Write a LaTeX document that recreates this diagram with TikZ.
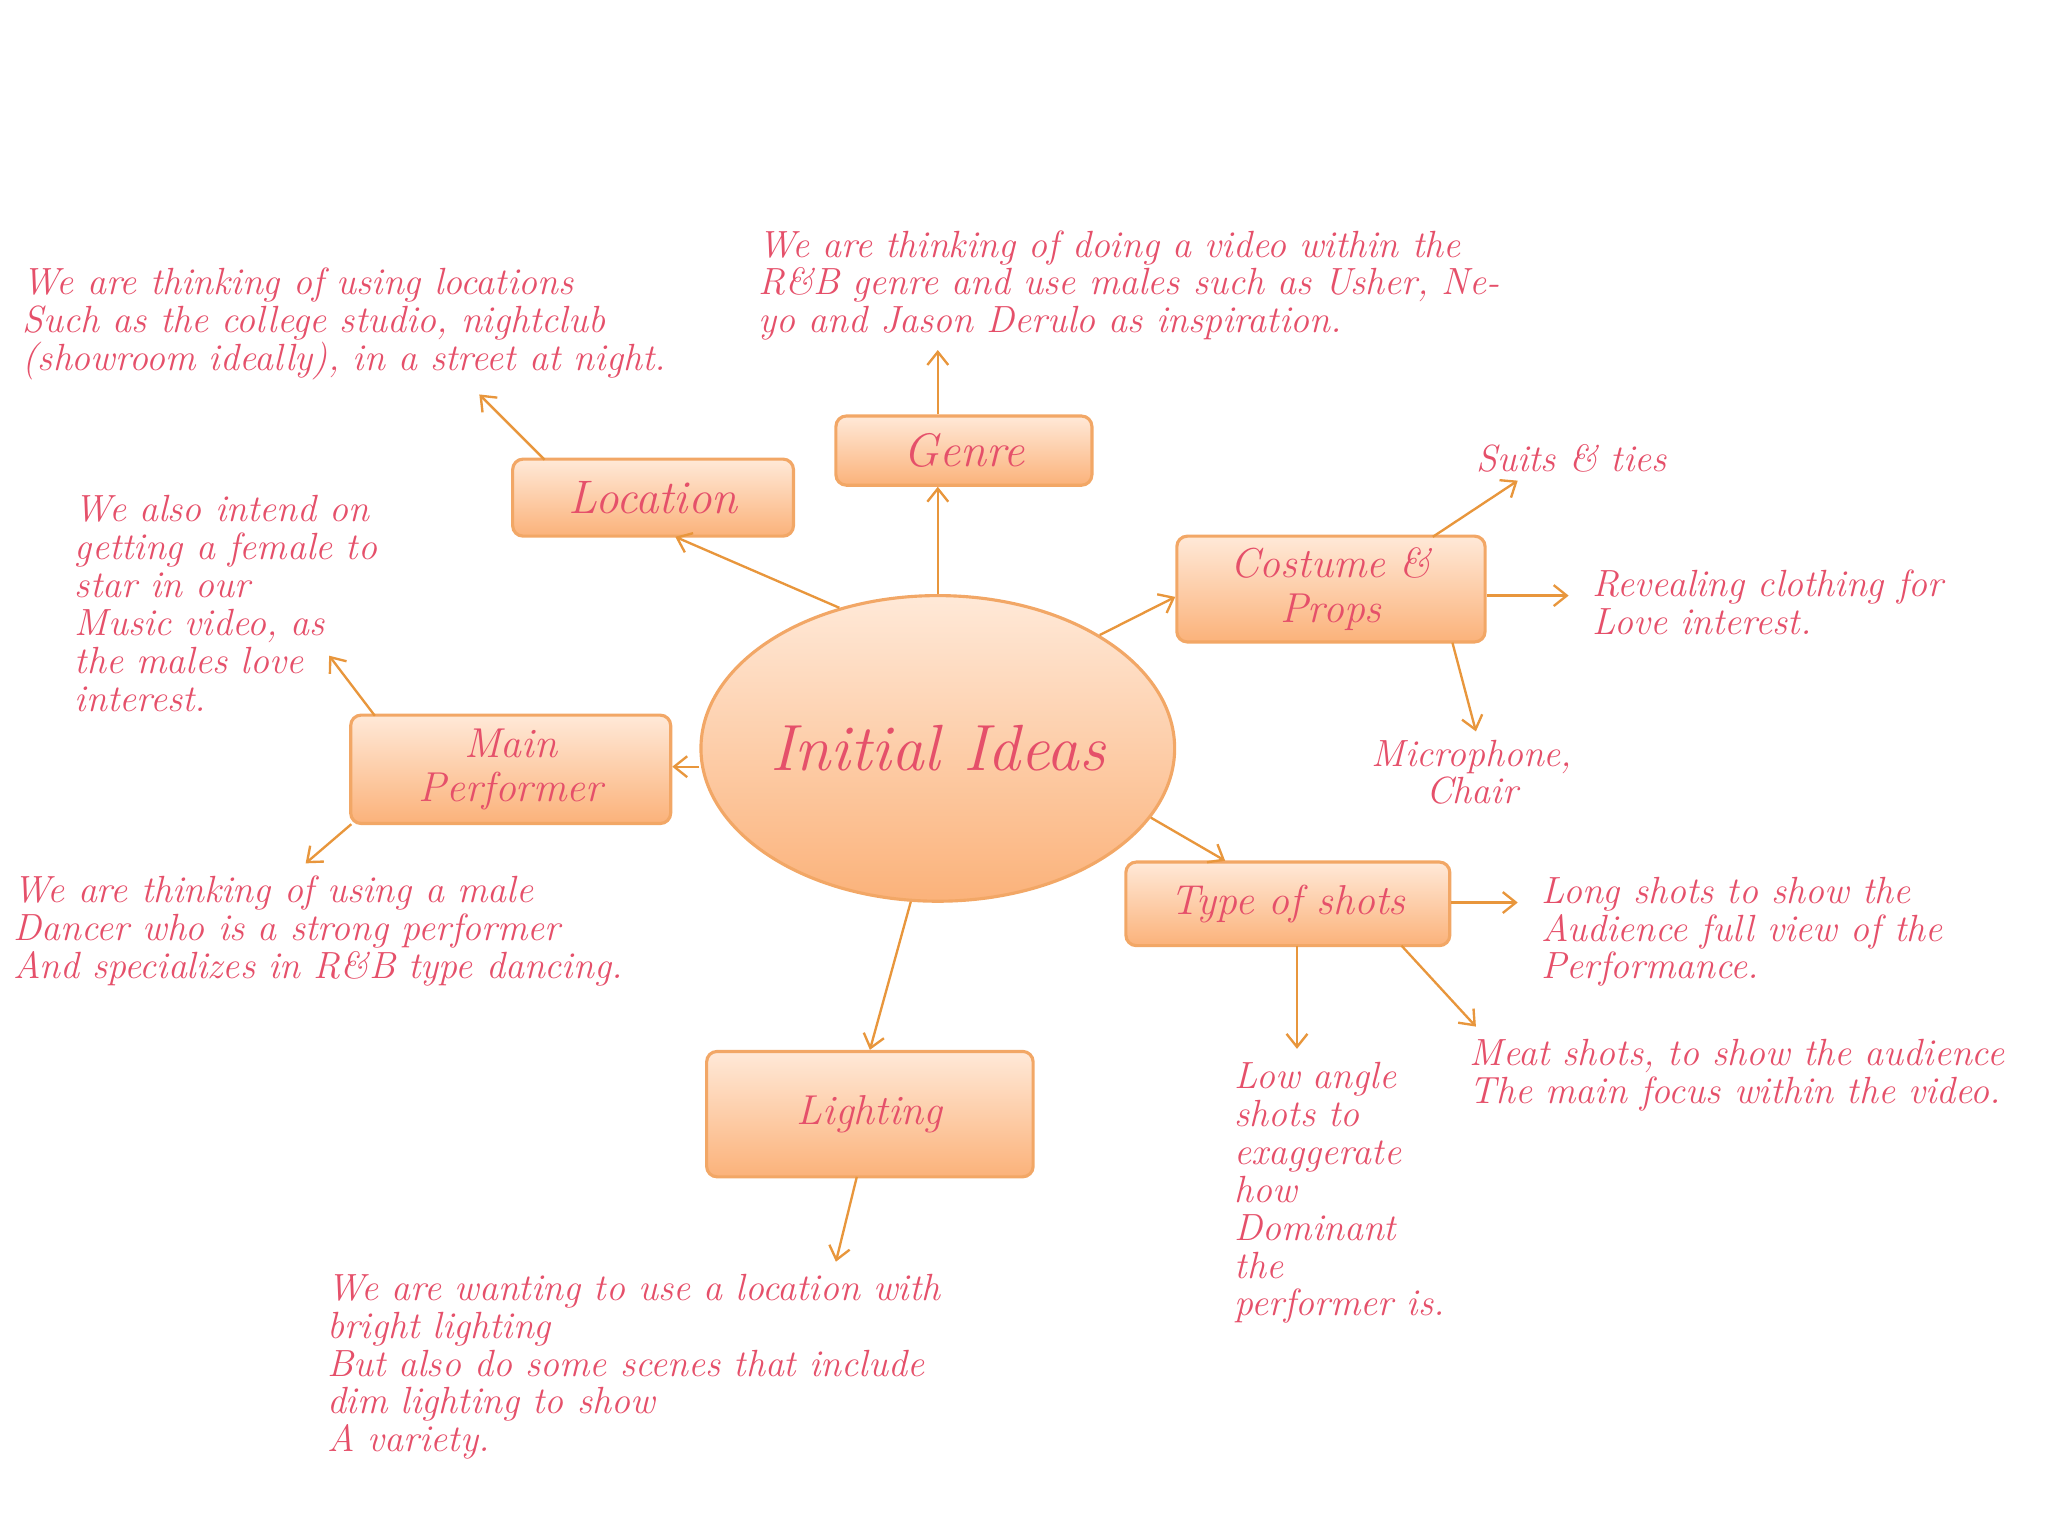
\documentclass[tikz,border=0pt]{standalone}
\usetikzlibrary{shapes.geometric,arrows.meta}
\definecolor{txt}{HTML}{E5506A}
\definecolor{ln}{HTML}{E8963C}
\definecolor{bd}{HTML}{F2A766}
\definecolor{top}{HTML}{FFE9D8}
\definecolor{bot}{HTML}{FBB27A}
\begin{document}
\begin{tikzpicture}[x=0.5pt,y=-0.5pt,
  box/.style={draw=bd,line width=1.2pt,rounded corners=4pt,top color=top,bottom color=bot,text=txt,font=\itshape\fontsize{16}{17}\selectfont,align=center,inner sep=0pt},
  note/.style={text=txt,font=\itshape\fontsize{14.5}{14.5}\selectfont,align=left,anchor=north west,inner sep=0pt},
  arr/.style={draw=ln,line width=0.9pt,-{Straight Barb[length=5pt,width=8pt]}}]
\useasboundingbox (0,0) rectangle (1568,1176);
\node[ellipse,draw=bd,line width=1.2pt,top color=top,bottom color=bot,inner sep=0pt,
  minimum width=157pt,minimum height=117pt,text=txt,font=\itshape\fontsize{25}{27}\selectfont] (ii) at (718,573) {Initial Ideas};
\node[box,minimum width=98pt,minimum height=26.5pt] (genre) at (738,345) {\fontsize{18}{19}\selectfont Genre};
\node[box,minimum width=107.5pt,minimum height=29.5pt] (loc) at (500,381) {\fontsize{18}{19}\selectfont Location};
\node[box,minimum width=118pt,minimum height=40.5pt] (cos) at (1019,451) {Costume \&\\Props};
\node[box,minimum width=122.5pt,minimum height=41.5pt] (mp) at (391,589) {Main\\Performer};
\node[box,minimum width=124pt,minimum height=32pt] (ts) at (986,692) {Type of shots};
\node[box,minimum width=125pt,minimum height=48pt] (li) at (666,853) {Lighting};

\node[note] (tg) at (580,176) {We are thinking of doing a video within the\\R\&B genre and use males such as Usher, Ne-\\yo and Jason Derulo as inspiration.};
\node[note] (tl) at (17,205) {We are thinking of using locations\\Such as the college studio, nightclub\\(showroom ideally), in a street at night.};
\node[note] (tf) at (57,379) {We also intend on\\getting a female to\\star in our\\Music video, as\\the males love\\interest.};
\node[note] (tm) at (10,670) {We are thinking of using a male\\Dancer who is a strong performer\\And specializes in R\&B type dancing.};
\node[note] (tst) at (1130,340) {Suits \& ties};
\node[note] (trc) at (1219,436) {Revealing clothing for\\Love interest.};
\node[note,align=center,anchor=north] (tmc) at (1127,566) {Microphone,\\Chair};
\node[note] (tls) at (1180,671) {Long shots to show the\\Audience full view of the\\Performance.};
\node[note] (tms) at (1125,795) {Meat shots, to show the audience\\The main focus within the video.};
\node[note] (tla) at (945,813) {Low angle\\shots to\\exaggerate\\how\\Dominant\\the\\performer is.};
\node[note] (tli) at (250,975) {We are wanting to use a location with\\bright lighting\\But also do some scenes that include\\dim lighting to show\\A variety.};

\coordinate (e1) at (718,268); \coordinate (e2) at (367,302);
\coordinate (e3) at (1162,368); \coordinate (e4) at (1201,456);
\coordinate (e5) at (1130,560); \coordinate (e6) at (252,502);
\coordinate (e7) at (234,661); \coordinate (e8) at (1162,691);
\coordinate (e9) at (993,803); \coordinate (e10) at (1130,786);
\coordinate (e11) at (640,966);

\draw[arr] (ii.north) -- (genre.south -| ii.north);
\draw[arr] (genre.north -| ii.north) -- (e1);
\draw[arr] (ii.125) -- (517,411);
\draw[arr] (417,352) -- (e2);
\draw[arr] (ii.35) -- (cos.south west |- 0,457);
\draw[arr] (1097,411) -- (e3);
\draw[arr] (cos.east |- 0,456) -- (e4);
\draw[arr] (1112,492) -- (e5);
\draw[arr] (ii.west |- 0,587) -- (mp.east |- 0,587);
\draw[arr] (287,548) -- (e6);
\draw[arr] (269,631) -- (e7);
\draw[arr] (ii.-18) -- (938,659);
\draw[arr] (ts.east |- 0,691) -- (e8);
\draw[arr] (993,724) -- (e9);
\draw[arr] (1073,724) -- (e10);
\draw[arr] (ii.-100) -- (li.north);
\draw[arr] (656,901) -- (e11);
\end{tikzpicture}
\end{document}
